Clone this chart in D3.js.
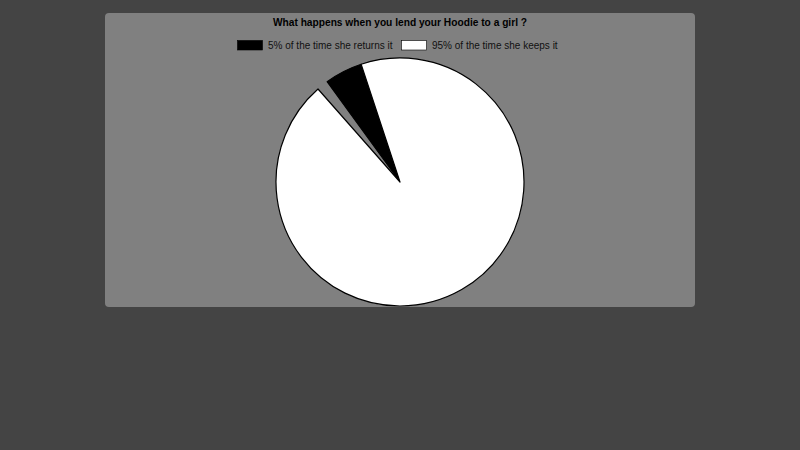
<!DOCTYPE html>
<html>
<head>
<meta charset="utf-8">
<script src="https://cdn.jsdelivr.net/npm/d3@7"></script>
<style>
  html, body { margin: 0; padding: 0; background: #444444; }
  svg { display: block; font-family: "Liberation Sans", Arial, sans-serif; }
</style>
</head>
<body>
<div id="chart"></div>
<script>
// data
const categories = ["5% of the time she returns it", "95% of the time she keeps it"];
const values = [5, 95];
const colors = ["#000000", "#ffffff"];
const title = "What happens when you lend your Hoodie to a girl ?";

const W = 800, H = 450;
const panel = { x: 105, y: 13, w: 590, h: 294 };
const cx = 400, cy = 182, radius = 124;

const svg = d3.select("#chart")
    .append("svg")
    .attr("width", W)
    .attr("height", H);

svg.append("rect")
    .attr("x", panel.x).attr("y", panel.y)
    .attr("width", panel.w).attr("height", panel.h)
    .attr("rx", 4)
    .attr("fill", "#808080");

svg.append("text")
    .attr("x", 400).attr("y", 26)
    .attr("text-anchor", "middle")
    .attr("font-size", 10.2)
    .attr("font-weight", "bold")
    .attr("fill", "#000")
    .text(title);

// legend
const legendX = [237, 401];
const legend = svg.selectAll(".legend")
    .data(categories)
    .enter().append("g")
    .attr("class", "legend")
    .attr("transform", (d, i) => `translate(${legendX[i]},40)`);

legend.append("rect")
    .attr("x", 0.5).attr("y", 0.5)
    .attr("width", 25).attr("height", 9.5)
    .attr("fill", (d, i) => colors[i])
    .attr("stroke", "#000")
    .attr("stroke-width", 0.6);

legend.append("text")
    .attr("x", 31).attr("y", 8.5)
    .attr("font-size", 10)
    .attr("fill", "#111")
    .text(d => d);

// pie (leaves a small gap as in the original)
const deg = Math.PI / 180;
const pie = d3.pie().sort(null)
    .startAngle(-36 * deg)
    .endAngle(318.6 * deg);
const arc = d3.arc().innerRadius(0).outerRadius(radius);

svg.append("g")
    .attr("transform", `translate(${cx},${cy})`)
    .selectAll("path")
    .data(pie(values))
    .enter().append("path")
    .attr("d", arc)
    .attr("fill", (d, i) => colors[i])
    .attr("stroke", "#000")
    .attr("stroke-width", 1.2)
    .attr("stroke-linejoin", "round");
</script>
</body>
</html>
